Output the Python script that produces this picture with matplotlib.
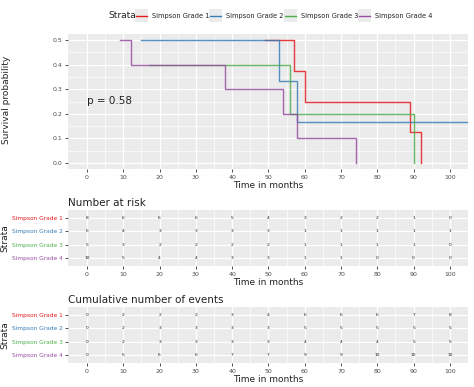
import matplotlib
matplotlib.use("Agg")
from matplotlib import pyplot as plt
from matplotlib.patches import Rectangle
from matplotlib.lines import Line2D

W, H = 474, 387

strata = ["Simpson Grade 1", "Simpson Grade 2", "Simpson Grade 3", "Simpson Grade 4"]
colors = ["#E41A1C", "#377EB8", "#4DAF4A", "#984EA3"]

# step curves: time of each step and survival after it
g1_time = [49, 57, 60, 89, 92]
g1_surv = [0.5, 0.375, 0.25, 0.125, 0.0]
g2_time = [15, 53, 58, 105]
g2_surv = [0.5, 0.333, 0.167, 0.167]
g3_time = [17, 56, 90]
g3_surv = [0.4, 0.2, 0.0]
g4_time = [9, 12, 38, 54, 58, 74]
g4_surv = [0.5, 0.4, 0.3, 0.2, 0.1, 0.0]

table_times = [0, 10, 20, 30, 40, 50, 60, 70, 80, 90, 100]
at_risk = [
    [8, 6, 6, 6, 5, 4, 3, 2, 2, 1, 0],
    [6, 4, 3, 3, 3, 3, 1, 1, 1, 1, 1],
    [5, 3, 2, 2, 2, 2, 1, 1, 1, 1, 0],
    [10, 5, 4, 4, 3, 3, 1, 1, 0, 0, 0],
]
cum_events = [
    [0, 2, 2, 2, 3, 4, 6, 6, 6, 7, 8],
    [0, 2, 3, 3, 3, 3, 5, 5, 5, 5, 5],
    [0, 2, 3, 3, 3, 3, 4, 4, 4, 5, 5],
    [0, 5, 6, 6, 7, 7, 9, 9, 10, 10, 10],
]
p_text = "p = 0.58"

BG = "#EBEBEB"
TICK = "#4D4D4D"


def rect(x0, y0, x1, y1):
    return [x0 / W, 1 - y1 / H, (x1 - x0) / W, (y1 - y0) / H]


def style(ax):
    ax.set_facecolor(BG)
    for s in ax.spines.values():
        s.set_visible(False)
    ax.tick_params(length=2, width=0.6, color="#333333", labelsize=4.5,
                   labelcolor=TICK, pad=2)
    ax.set_axisbelow(True)


fig = plt.figure(figsize=(W / 100, H / 100), dpi=100)

# main survival plot
ax = fig.add_axes(rect(68, 34, 468, 169))
style(ax)
ax.set_xlim(-5.25, 105)
ax.set_ylim(-0.025, 0.525)
ax.set_xticks(range(0, 101, 10))
ax.set_xticks(range(5, 106, 10), minor=True)
ax.set_yticks([0, 0.1, 0.2, 0.3, 0.4, 0.5])
ax.set_yticks([0.05, 0.15, 0.25, 0.35, 0.45], minor=True)
ax.set_yticklabels(["0.0", "0.1", "0.2", "0.3", "0.4", "0.5"])
ax.tick_params(which="minor", length=0)
ax.grid(which="major", color="white", lw=0.9)
ax.grid(which="minor", color="white", lw=0.45)
for t, s, c in zip([g1_time, g2_time, g3_time, g4_time],
                   [g1_surv, g2_surv, g3_surv, g4_surv], colors):
    ax.step(t, s, where="post", color=c, lw=1.0, alpha=0.85)
ax.text(0, 0.25, p_text, fontsize=7.5, color="#222222", va="center", ha="left")
ax.set_xlabel("Time in months", fontsize=6.5, color="#222222", labelpad=1)
fig.text(7 / W, 1 - 100 / H, "Survival probability", rotation=90,
         fontsize=6.5, color="#222222", ha="center", va="center")

# legend
fig.text(108 / W, 1 - 16 / H, "Strata", fontsize=6.5, color="#222222",
         va="center", ha="left")
key_x = [135, 209, 284, 358]
for kx, c, name in zip(key_x, colors, strata):
    fig.patches.append(Rectangle((kx / W, 1 - 22 / H), 13 / W, 13 / H,
                                 transform=fig.transFigure, color=BG, lw=0))
    fig.lines.append(Line2D([(kx + 1) / W, (kx + 12) / W], [1 - 15.5 / H] * 2,
                            transform=fig.transFigure, color=c, lw=1.0))
    fig.text((kx + 17) / W, 1 - 16 / H, name, fontsize=4.8, color="#222222",
             va="center", ha="left")


def table(top, bottom, title, values):
    tx = fig.add_axes(rect(68, top, 468, bottom))
    style(tx)
    tx.set_xlim(-5.25, 105)
    tx.set_ylim(3.6, -0.6)
    tx.set_xticks(table_times)
    tx.set_xticks(range(5, 106, 10), minor=True)
    tx.tick_params(which="minor", length=0)
    tx.set_yticks(range(len(strata)))
    tx.set_yticklabels(strata, fontsize=4.2)
    for lab, c in zip(tx.get_yticklabels(), colors):
        lab.set_color(c)
    tx.grid(which="major", color="white", lw=0.9)
    tx.grid(which="minor", axis="x", color="white", lw=0.45)
    for i, row in enumerate(values):
        for t, v in zip(table_times, row):
            tx.text(t, i, str(v), fontsize=3.2, ha="center", va="center",
                    color="#222222")
    tx.set_title(title, fontsize=7.5, loc="left", color="#222222", pad=3)
    tx.set_xlabel("Time in months", fontsize=6.5, color="#222222", labelpad=1)
    fig.text(5 / W, 1 - ((top + bottom) / 2) / H, "Strata", rotation=90,
             fontsize=6.5, color="#222222", ha="center", va="center")
    return tx


table(210, 266, "Number at risk", at_risk)
table(307, 363, "Cumulative number of events", cum_events)

fig.savefig("out.png", dpi=100)
